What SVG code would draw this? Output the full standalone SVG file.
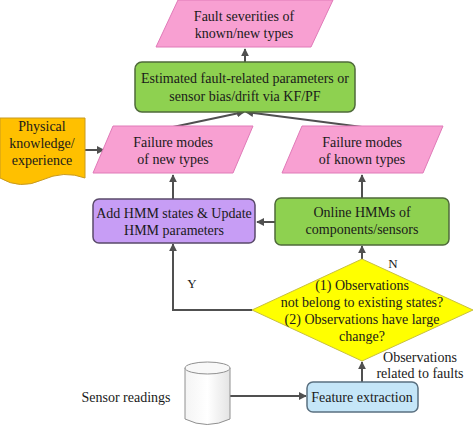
<svg xmlns="http://www.w3.org/2000/svg" width="474" height="429" viewBox="0 0 474 429">
<style>
text{font-family:'Liberation Serif','DejaVu Serif',serif;font-size:14px;fill:#1a1a1a;text-anchor:middle}
.pink{fill:#F8A0D2;stroke:#E07AB8;stroke-width:1}
.green{fill:#8ED150;stroke:#4F6A3A;stroke-width:1.5}
.purple{fill:#C79DF5;stroke:#5A4A6A;stroke-width:1.5}
.conn{stroke:#505050;stroke-width:2;fill:none}
</style>
<defs>
<marker id="ah" viewBox="0 0 10 10" refX="9" refY="5" markerWidth="4" markerHeight="4" orient="auto">
<path d="M0,0 L10,5 L0,10 z" fill="#505050"/>
</marker>
<linearGradient id="cyl" x1="0" y1="0" x2="1" y2="0">
<stop offset="0" stop-color="#f4f4f4"/><stop offset="0.5" stop-color="#ffffff"/><stop offset="1" stop-color="#e4e4e4"/>
</linearGradient>
</defs>
<rect width="474" height="429" fill="#ffffff"/>
<g id="connectors">
<line class="conn" x1="245" y1="62" x2="245" y2="49" marker-end="url(#ah)"/>
<line class="conn" x1="173" y1="127" x2="244" y2="112" marker-end="url(#ah)"/>
<line class="conn" x1="362" y1="127" x2="246" y2="112" marker-end="url(#ah)"/>
<line class="conn" x1="85" y1="150" x2="104" y2="150" marker-end="url(#ah)"/>
<line class="conn" x1="173" y1="199" x2="173" y2="175" marker-end="url(#ah)"/>
<line class="conn" x1="362" y1="198" x2="362" y2="175" marker-end="url(#ah)"/>
<line class="conn" x1="275" y1="222" x2="257" y2="222" marker-end="url(#ah)"/>
<line class="conn" x1="362" y1="259" x2="362" y2="246" marker-end="url(#ah)"/>
<polyline class="conn" points="252,310 173,310 173,244" marker-end="url(#ah)"/>
<line class="conn" x1="362" y1="382" x2="362" y2="362" marker-end="url(#ah)"/>
<line class="conn" x1="230" y1="396" x2="306" y2="396" marker-end="url(#ah)"/>
</g>
<g id="fault-severities">
<polygon class="pink" points="178,0 333,0 311,47 156,47"/>
<text x="244" y="21" font-family="Liberation Serif, serif">Fault severities of</text>
<text x="244" y="38" font-family="Liberation Serif, serif">known/new types</text>
</g>
<g id="estimated-params">
<rect class="green" x="135" y="62" width="220" height="50" rx="7"/>
<text x="245" y="83">Estimated fault-related parameters or</text>
<text x="245" y="101">sensor bias/drift via KF/PF</text>
</g>
<g id="physical-knowledge">
<path d="M0,118 L85,118 L85,178 Q64,170 42,180 Q20,190 0,178 Z" fill="#FFC000" stroke="#C89A20" stroke-width="1"/>
<text x="42" y="131">Physical</text>
<text x="42" y="148">knowledge/</text>
<text x="42" y="165">experience</text>
</g>
<g id="failure-new">
<polygon class="pink" points="113,126 253,126 233,173 93,173"/>
<text x="173" y="147">Failure modes</text>
<text x="173" y="164">of new types</text>
</g>
<g id="failure-known">
<polygon class="pink" points="302,126 443,126 423,173 282,173"/>
<text x="362" y="147">Failure modes</text>
<text x="362" y="164">of known types</text>
</g>
<g id="add-hmm">
<rect class="purple" x="93" y="199" width="162" height="44" rx="6"/>
<text x="174" y="218">Add HMM states &amp; Update</text>
<text x="174" y="235">HMM parameters</text>
</g>
<g id="online-hmm">
<rect class="green" x="275" y="198" width="174" height="47" rx="6"/>
<text x="362" y="217">Online HMMs of</text>
<text x="362" y="234">components/sensors</text>
</g>
<g id="decision">
<polygon points="362,259 473,310 362,361 252,310" fill="#FFFF00" stroke="#C8C040" stroke-width="1"/>
<text x="362" y="290">(1) Observations</text>
<text x="362" y="307">not belong to existing states?</text>
<text x="362" y="324">(2) Observations have large</text>
<text x="362" y="341">change?</text>
</g>
<text x="393" y="268" style="font-size:13px">N</text>
<text x="192" y="288" style="font-size:13px">Y</text>
<text x="420" y="362">Observations</text>
<text x="420" y="378">related to faults</text>
<g id="feature-extraction">
<rect x="307" y="382" width="111" height="30" rx="6" fill="#C5E6F8" stroke="#5A7080" stroke-width="1.5"/>
<text x="362" y="402">Feature extraction</text>
</g>
<g id="sensor-readings">
<path d="M185,368 L185,419 Q207,430 230,419 L230,368" fill="url(#cyl)" stroke="#909090" stroke-width="1"/>
<ellipse cx="207.5" cy="368" rx="22.5" ry="6" fill="#f8f8f8" stroke="#909090" stroke-width="1"/>
<text x="126" y="402">Sensor readings</text>
</g>
</svg>
